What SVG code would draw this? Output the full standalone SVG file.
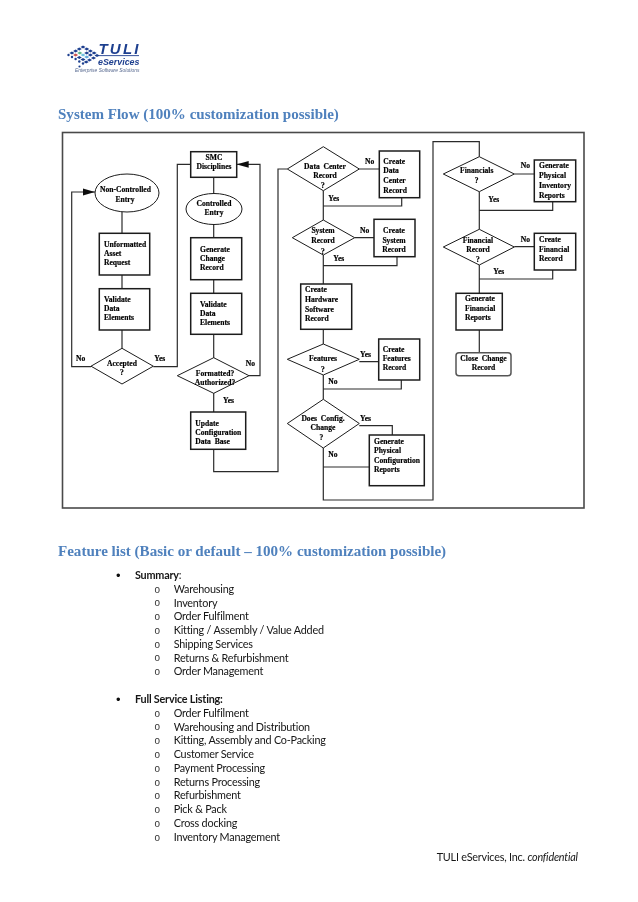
<svg xmlns="http://www.w3.org/2000/svg" xmlns:xlink="http://www.w3.org/1999/xlink" width="638" height="902" viewBox="0 0 638 902">
<style>
.b{fill:#fff;stroke:#1c1c1c;stroke-width:1.5}
.t{font:bold 7.6px "Liberation Serif",serif;fill:#000;stroke:#000;stroke-width:.18}
.m{text-anchor:middle}
.c{fill:none;stroke:#2c2c2c;stroke-width:1.2}
.h{font:bold 15.05px "Liberation Serif",serif;fill:#4f81bd}
.l{font:10.8px Lato,"Noto Sans",sans-serif;fill:#151515;letter-spacing:-.2px}
.o{font:10px "Liberation Mono",monospace;fill:#333;text-anchor:middle}
.d{font:13px "Liberation Sans",sans-serif;fill:#111;text-anchor:middle}
.q{fill:#1f3f8f}
</style>
<defs>
<marker id="ah" markerUnits="userSpaceOnUse" markerWidth="12" markerHeight="8" refX="12" refY="4" orient="auto"><path d="M0,0.6L12,4L0,7.4Z" fill="#111"/></marker>
<path id="s" d="M0,-1.4L2.5,0L0,1.4L-2.5,0Z"/>
<filter id="soft" x="-2%" y="-2%" width="104%" height="104%"><feGaussianBlur stdDeviation="0.3"/></filter>
</defs>
<rect width="638" height="902" fill="#fff"/>

<g id="logo" filter="url(#soft)">
<g class="q">
<use xlink:href="#s" x="83" y="47"/><use xlink:href="#s" x="86.7" y="49"/><use xlink:href="#s" x="90.4" y="51"/><use xlink:href="#s" x="94.1" y="53"/><use xlink:href="#s" x="97" y="55.5"/>
<use xlink:href="#s" x="79.3" y="49"/><use xlink:href="#s" x="86.7" y="53"/><use xlink:href="#s" x="90.4" y="55"/><use xlink:href="#s" x="93.5" y="58"/>
<use xlink:href="#s" x="75.6" y="51"/><use xlink:href="#s" x="89.5" y="60"/>
<use xlink:href="#s" x="71.9" y="53"/><use xlink:href="#s" x="79.3" y="57.5"/><use xlink:href="#s" x="83" y="59.5"/><use xlink:href="#s" x="86.2" y="62"/>
<circle cx="68.5" cy="55" r="1.2"/><circle cx="72" cy="57" r="1.2"/><circle cx="75.6" cy="59" r="1.2"/><circle cx="79.3" cy="61.5" r="1.2"/><circle cx="83" cy="63.5" r="1.2"/><circle cx="79.5" cy="66.5" r="1.1"/>
</g>
<use xlink:href="#s" x="75.6" y="55" fill="#c9504d"/><use xlink:href="#s" x="79.8" y="53" fill="#5cb88a"/><use xlink:href="#s" x="83" y="55" fill="#6fc3e0"/><use xlink:href="#s" x="86.7" y="57" fill="#5fa8dc"/>
<text x="98.5" y="54" style="font:italic bold 15px 'Liberation Sans',sans-serif;letter-spacing:2.2px" fill="#1f3f8f">TULI</text>
<rect x="98" y="55.2" width="41" height="0.9" fill="#1f3f8f"/>
<text x="98" y="65" style="font:italic bold 8.9px 'Liberation Sans',sans-serif" fill="#1f3f8f">eServices</text>
<text x="75" y="71.8" style="font:italic 4.9px 'Liberation Sans',sans-serif" fill="#56688f">Enterprise Software Solutions</text>
</g>

<g id="headings" filter="url(#soft)">
<text id="title-flow" class="h" x="58" y="119">System Flow (100% customization possible)</text>
<text id="title-features" class="h" x="58" y="556">Feature list (Basic or default – 100% customization possible)</text>
</g>

<g id="chart" filter="url(#soft)">
<rect id="frame" x="62.5" y="132.5" width="521.5" height="375.5" fill="#fff" stroke="#4a4a4a" stroke-width="1.6"/>
<g id="connectors" class="c">
<path d="M122,212V233M122,275V289M122,330V348"/>
<path d="M91,366.7H71.7V192H95" marker-end="url(#ah)"/>
<path d="M153.3,366.7H177.3V164.3H190.7"/>
<path d="M213.7,177V193M213.7,224V238M213.7,280V293M213.7,334V358M213.7,393V412"/>
<path d="M249,375.7H260V164.3H236.7" marker-end="url(#ah)"/>
<path d="M213.7,449V471.7H278V169H287.3"/>
<path d="M359.3,169H379.3M323.3,190.7V220M323.3,206H401.7V197.7"/>
<path d="M354.7,237.7H374M323.3,255V284M323.3,265.7H397V256.7"/>
<path d="M323.3,329.3V344M359.3,361.7H378.7M323.3,375V399.3M323.3,389H401.3V380"/>
<path d="M359.3,425.7H392.3V435M323.3,448V500H433V141.7H479.3V156.7M323.3,467H369.3"/>
<path d="M514.3,174H534.3M479.3,191.7V229.3M479.3,210.3H552.7V201.7"/>
<path d="M514.3,246.7H534.3M479.3,265V293.3M479.3,279H552.7V270"/>
<path d="M479.3,330V352.7"/>
</g>

<g id="n-noncontrolled"><ellipse class="b" cx="127" cy="193" rx="32" ry="19" style="stroke-width:1"/><text class="t m" x="125.5" y="192.3">Non-Controlled</text><text class="t m" x="125" y="201.7">Entry</text></g>
<g id="n-unformatted"><rect class="b" x="99.3" y="233.3" width="50.4" height="41.7"/><text class="t" x="104" y="246.7">Unformatted</text><text class="t" x="104" y="256">Asset</text><text class="t" x="104" y="265">Request</text></g>
<g id="n-validate1"><rect class="b" x="99.3" y="288.7" width="50.4" height="41.3"/><text class="t" x="104" y="301.7">Validate</text><text class="t" x="104" y="311">Data</text><text class="t" x="104" y="320">Elements</text></g>
<g id="n-accepted"><path class="b" d="M122,348.3L153.3,366.2L122,384L91,366.2Z" style="stroke-width:1"/><text class="t m" x="122" y="365.7">Accepted</text><text class="t m" x="122" y="375">?</text></g>
<g id="n-smc"><rect class="b" x="190.7" y="151.7" width="46" height="25.6"/><text class="t m" x="214" y="159.5">SMC</text><text class="t m" x="214" y="169">Disciplines</text></g>
<g id="n-controlled"><ellipse class="b" cx="214" cy="209" rx="28" ry="15.5" style="stroke-width:1"/><text class="t m" x="214" y="206">Controlled</text><text class="t m" x="214" y="215">Entry</text></g>
<g id="n-generate-change"><rect class="b" x="190.7" y="237.7" width="51" height="42"/><text class="t" x="200" y="251.7">Generate</text><text class="t" x="200" y="261">Change</text><text class="t" x="200" y="270">Record</text></g>
<g id="n-validate2"><rect class="b" x="190.7" y="293.3" width="51" height="41"/><text class="t" x="200" y="306.7">Validate</text><text class="t" x="200" y="316">Data</text><text class="t" x="200" y="324.5">Elements</text></g>
<g id="n-formatted"><path class="b" d="M213.7,357.7L249,375.7L213.7,393.3L177.3,375.7Z" style="stroke-width:1"/><text class="t m" x="215" y="375.7">Formatted?</text><text class="t m" x="215" y="385">Authorized?</text></g>
<g id="n-update"><rect class="b" x="190.7" y="412" width="55" height="37.3"/><text class="t" x="195.3" y="426">Update</text><text class="t" x="195.3" y="435">Configuration</text><text class="t" x="195.3" y="444" xml:space="preserve">Data  Base</text></g>

<g id="n-dc"><path class="b" d="M323.3,146.7L359.3,169L323.3,190.7L287.3,169Z" style="stroke-width:1"/><text class="t m" x="325" y="168.7" xml:space="preserve">Data  Center</text><text class="t m" x="325" y="178.3">Record</text><text class="t m" x="323" y="187.5">?</text></g>
<g id="n-create-dc"><rect class="b" x="379.3" y="151" width="40.4" height="46.7"/><text class="t" x="383.3" y="164">Create</text><text class="t" x="383.3" y="173.3">Data</text><text class="t" x="383.3" y="182.7">Center</text><text class="t" x="383.3" y="192.7">Record</text></g>
<g id="n-system"><path class="b" d="M323.3,220L354.7,237.7L323.3,255L292.3,237.7Z" style="stroke-width:1"/><text class="t m" x="323" y="233.3">System</text><text class="t m" x="323" y="242.7">Record</text><text class="t m" x="323" y="253.5">?</text></g>
<g id="n-create-system"><rect class="b" x="374" y="219.3" width="41" height="37.4"/><text class="t m" x="394" y="233.3">Create</text><text class="t m" x="394" y="242.7">System</text><text class="t m" x="394" y="252">Record</text></g>
<g id="n-hardware"><rect class="b" x="300.7" y="284" width="51" height="45.3"/><text class="t" x="305" y="291.7">Create</text><text class="t" x="305" y="301.7">Hardware</text><text class="t" x="305" y="311.7">Software</text><text class="t" x="305" y="320.5">Record</text></g>
<g id="n-features"><path class="b" d="M323.3,344L359.3,359.3L323.3,375L287.3,359.3Z" style="stroke-width:1"/><text class="t m" x="323" y="361">Features</text><text class="t m" x="323" y="371.7">?</text></g>
<g id="n-create-features"><rect class="b" x="378.7" y="339" width="41" height="41"/><text class="t" x="382.7" y="352">Create</text><text class="t" x="382.7" y="361">Features</text><text class="t" x="382.7" y="370.3">Record</text></g>
<g id="n-config"><path class="b" d="M323.3,399.3L359.3,423.5L323.3,448L287.3,423.5Z" style="stroke-width:1"/><text class="t m" x="323" y="421" xml:space="preserve">Does  Config.</text><text class="t m" x="323" y="430.3">Change</text><text class="t m" x="321.5" y="440">?</text></g>
<g id="n-gen-config"><rect class="b" x="369.3" y="435" width="55" height="50.7"/><text class="t" x="374" y="444">Generate</text><text class="t" x="374" y="453.3">Physical</text><text class="t" x="374" y="462.7">Configuration</text><text class="t" x="374" y="471.7">Reports</text></g>

<g id="n-financials"><path class="b" d="M479.3,156.7L514.3,174L479.3,191.7L443.3,174Z" style="stroke-width:1"/><text class="t m" x="476.7" y="173.3">Financials</text><text class="t m" x="476.7" y="183">?</text></g>
<g id="n-gen-inventory"><rect class="b" x="534.3" y="160" width="41.4" height="41.7"/><text class="t" x="539" y="168.3">Generate</text><text class="t" x="539" y="177.8">Physical</text><text class="t" x="539" y="188">Inventory</text><text class="t" x="539" y="197.7">Reports</text></g>
<g id="n-fin-record"><path class="b" d="M479.3,229.3L514.3,247L479.3,265L443.3,247Z" style="stroke-width:1"/><text class="t m" x="478" y="242.7">Financial</text><text class="t m" x="478" y="251.7">Record</text><text class="t m" x="478" y="261.7">?</text></g>
<g id="n-create-fin"><rect class="b" x="534.3" y="233.3" width="41.4" height="36.7"/><text class="t" x="539" y="242.3">Create</text><text class="t" x="539" y="251.7">Financial</text><text class="t" x="539" y="260.7">Record</text></g>
<g id="n-gen-fin"><rect class="b" x="456" y="293.3" width="46.3" height="36.7"/><text class="t" x="465" y="301">Generate</text><text class="t" x="465" y="310.7">Financial</text><text class="t" x="465" y="320">Reports</text></g>
<g id="n-close"><rect class="b" x="456" y="352.7" width="55" height="23" rx="3" style="stroke:#555"/><text class="t m" x="483.5" y="360.7" xml:space="preserve">Close  Change</text><text class="t m" x="483.5" y="370">Record</text></g>

<g id="edge-labels">
<text class="t" x="76" y="361">No</text><text class="t" x="154.3" y="361">Yes</text><text class="t" x="245.7" y="365.7">No</text><text class="t" x="223" y="403">Yes</text>
<text class="t" x="365" y="164">No</text><text class="t" x="328.3" y="201.3">Yes</text><text class="t" x="360" y="233.3">No</text><text class="t" x="333.3" y="260.7">Yes</text>
<text class="t" x="360" y="356.7">Yes</text><text class="t" x="328.3" y="384.3">No</text><text class="t" x="360" y="421">Yes</text><text class="t" x="328.3" y="457.3">No</text>
<text class="t" x="520.7" y="168.3">No</text><text class="t" x="488.3" y="201.7">Yes</text><text class="t" x="520.7" y="242.3">No</text><text class="t" x="493.3" y="274.3">Yes</text>
</g>
</g>

<g id="lists" filter="url(#soft)">
<g id="list-summary">
<text class="d" x="118.3" y="580">•</text>
<text class="l" x="135" y="579" style="font-weight:bold">Summary<tspan style="font-weight:normal">:</tspan></text>
<text class="o" x="157.3" y="592.5">o</text><text class="l" x="173.7" y="592.7">Warehousing</text>
<text class="o" x="157.3" y="606.3">o</text><text class="l" x="173.7" y="606.5">Inventory</text>
<text class="o" x="157.3" y="620">o</text><text class="l" x="173.7" y="620.2">Order Fulfilment</text>
<text class="o" x="157.3" y="633.8">o</text><text class="l" x="173.7" y="634">Kitting / Assembly / Value Added</text>
<text class="o" x="157.3" y="647.6">o</text><text class="l" x="173.7" y="647.8">Shipping Services</text>
<text class="o" x="157.3" y="661.4">o</text><text class="l" x="173.7" y="661.6">Returns &amp; Refurbishment</text>
<text class="o" x="157.3" y="675.1">o</text><text class="l" x="173.7" y="675.3">Order Management</text>
</g>
<g id="list-full">
<text class="d" x="118.3" y="704">•</text>
<text class="l" x="135" y="703" style="font-weight:bold">Full Service Listing:</text>
<text class="o" x="157.3" y="716.6">o</text><text class="l" x="173.7" y="716.8">Order Fulfilment</text>
<text class="o" x="157.3" y="730.4">o</text><text class="l" x="173.7" y="730.6">Warehousing and Distribution</text>
<text class="o" x="157.3" y="744.2">o</text><text class="l" x="173.7" y="744.4">Kitting, Assembly and Co-Packing</text>
<text class="o" x="157.3" y="757.9">o</text><text class="l" x="173.7" y="758.1">Customer Service</text>
<text class="o" x="157.3" y="771.7">o</text><text class="l" x="173.7" y="771.9">Payment Processing</text>
<text class="o" x="157.3" y="785.5">o</text><text class="l" x="173.7" y="785.7">Returns Processing</text>
<text class="o" x="157.3" y="799.2">o</text><text class="l" x="173.7" y="799.4">Refurbishment</text>
<text class="o" x="157.3" y="813">o</text><text class="l" x="173.7" y="813.2">Pick &amp; Pack</text>
<text class="o" x="157.3" y="826.8">o</text><text class="l" x="173.7" y="827">Cross docking</text>
<text class="o" x="157.3" y="840.5">o</text><text class="l" x="173.7" y="840.7">Inventory Management</text>
</g>
<text id="footer" class="l" x="436.7" y="860.7">TULI eServices, Inc. <tspan font-style="italic">confidential</tspan></text>
</g>
</svg>
